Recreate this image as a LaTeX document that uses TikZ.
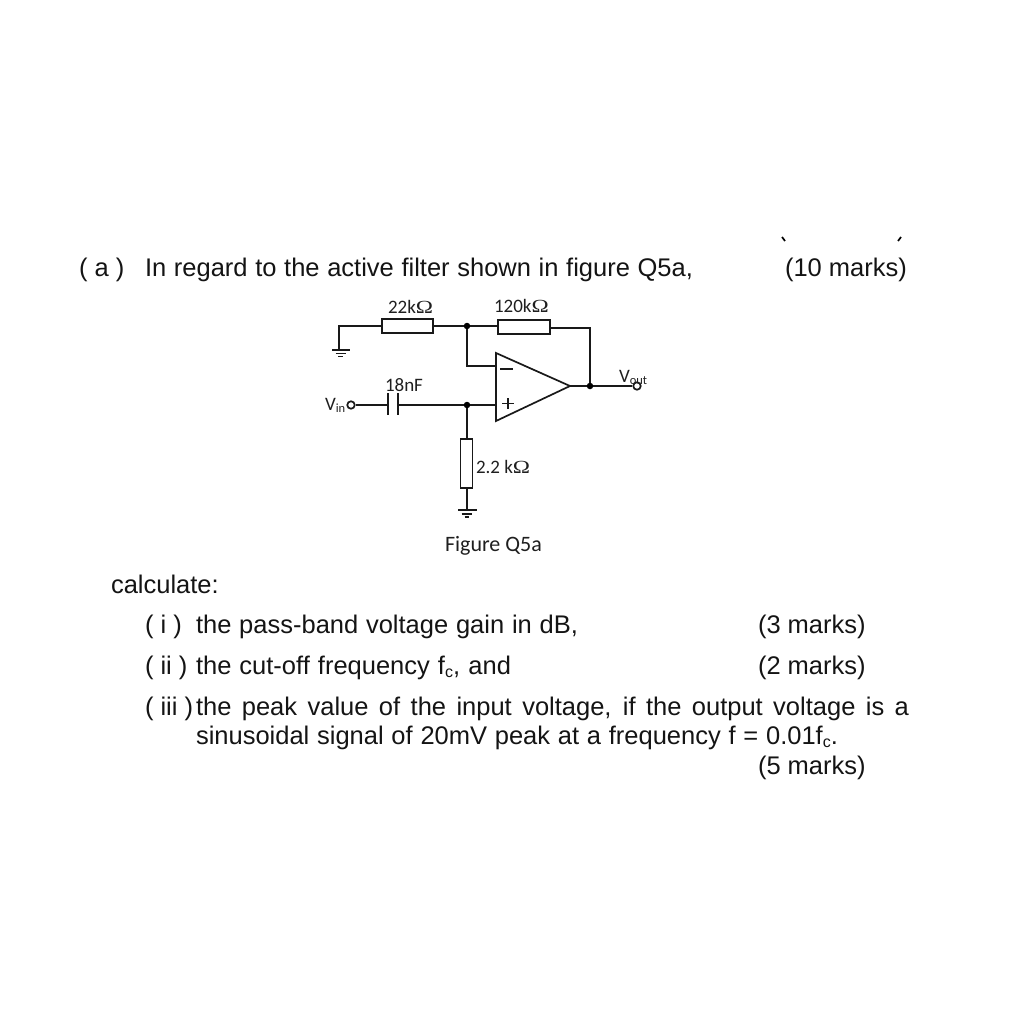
\documentclass[tikz,border=0pt]{standalone}
\usepackage{fontspec}
\setmainfont{Liberation Sans}
\newfontfamily\figfont{Carlito}
\newfontfamily\omegafont[FakeStretch=1.25]{Liberation Serif}
\newcommand{\Om}{{\omegafont\fontsize{18.5}{22}\selectfont\char"03A9}}
\newcommand{\lowsub}[1]{\raisebox{-3pt}{\fontsize{16}{16}\selectfont #1}}
\tikzset{
  x=1pt,y=-1pt,
  txt/.style={anchor=base west,inner sep=0pt,outer sep=0pt,font=\fontsize{25.5}{30}\selectfont,text=black!92},
  lbl/.style={anchor=base west,inner sep=0pt,outer sep=0pt,font=\figfont\fontsize{19}{22}\selectfont,text=black!88},
  wire/.style={draw=black!90,line width=1.7pt},
  res/.style={draw=black!90,line width=1.7pt,fill=white,rectangle,inner sep=0pt,outer sep=0pt},
  dot/.style={circle,fill=black,inner sep=0pt,minimum size=6.5pt},
  term/.style={circle,draw=black!90,line width=1.7pt,fill=white,inner sep=0pt,minimum size=7.5pt},
  gndbar/.style={draw=black!90,line width=1.4pt}
}
\begin{document}
\begin{tikzpicture}
\useasboundingbox (0,0) rectangle (1033,1033);
% texts
\node[txt] (ta) at (79,276) {( a )};
\node[txt] (tb) at (145,276) {\hbox to 548pt{In regard to the active filter shown in figure Q5a,}};
\node[txt] (tc) at (785,276) {(10 marks)};
\node[txt] (td) at (111,593) {calculate:};
\node[txt] (te) at (145,633) {( i )};
\node[txt] (tf) at (196,633) {\hbox to 382pt{the pass-band voltage gain in dB,}};
\node[txt] (tg) at (758,633) {(3 marks)};
\node[txt] (th) at (145,674) {( ii )};
\node[txt] (ti) at (196,674) {\hbox to 315pt{the cut-off frequency f\lowsub{c}, and}};
\node[txt] (tj) at (758,674) {(2 marks)};
\node[txt] (tk) at (145,715) {( iii )};
\node[txt] (tl) at (196,715) {\hbox to 713pt{the peak value of the input voltage, if the output voltage is a}};
\node[txt] (tm) at (196,744) {\hbox to 642pt{sinusoidal signal of 20mV peak at a frequency f = 0.01f\lowsub{c}.}};
\node[txt] (tn) at (758,774) {(5 marks)};
% stray marks
\coordinate (m1a) at (782,237); \coordinate (m1b) at (785,241);
\coordinate (m2a) at (901,237); \coordinate (m2b) at (898,241);
\draw[line width=1.7pt] (m1a) -- (m1b);
\draw[line width=1.7pt] (m2a) -- (m2b);
% circuit points
\node[res,minimum width=51pt,minimum height=14pt] (r1) at (407.5,326) {};
\node[res,minimum width=52pt,minimum height=14pt] (r2) at (524,327) {};
\node[res,minimum width=12pt,minimum height=49pt] (r3) at (466.5,463.5) {};
\node[dot] (j1) at (467,326) {};
\node[dot] (j2) at (467,405) {};
\node[dot] (j3) at (590,386) {};
\node[term] (vin) at (351,405) {};
\node[term] (vout) at (637,386) {};
\coordinate (g1) at (339,350);
\coordinate (g2) at (467,510);
\coordinate (c1) at (388,405);
\coordinate (c2) at (398,405);
\coordinate (a) at (496,353);
\coordinate (b) at (496,421);
\coordinate (o) at (570,386);
\coordinate (inm) at (496,366);
\coordinate (inp) at (496,405);
% wires
\draw[wire] (r1.west) -- (339,326) -- (g1);
\draw[wire] (r1.east) -- (j1);
\draw[wire] (j1) -- (r2.west |- j1);
\draw[wire] (r2.east |- 0,328) -- (590,328) -- (j3);
\draw[wire] (j1) -- (467,366) -- (inm);
\draw[wire] (vin) -- (c1);
\draw[wire] (c2) -- (j2);
\draw[wire] (j2) -- (inp);
\draw[wire] (j2) -- (r3.north -| j2);
\draw[wire] (r3.south -| g2) -- (g2);
\draw[wire] (o) -- (j3);
\draw[wire] (j3) -- (vout);
\draw[wire,line join=miter] (a) -- (o) -- (b) -- cycle;
\draw[wire] (388,393) -- (c1) -- (388,415);
\draw[wire] (398,393) -- (c2) -- (398,415);
% op-amp signs
\draw[wire] (500,369) -- (513,369);
\draw[wire] (502,403.5) -- (514,403.5);
\draw[wire] (508,398) -- (508,409);
% grounds
\draw[gndbar] (332,350) -- (350,350);
\draw[gndbar] (335.5,353.5) -- (346,353.5);
\draw[gndbar] (338,356.5) -- (343,356.5);
\draw[gndbar] (458,510) -- (477,510);
\draw[gndbar] (461.5,514) -- (472,514);
\draw[gndbar] (464.5,517) -- (469,517);
% labels
\node[lbl] (l1) at (388,313) {22k\Om};
\node[lbl] (l2) at (494,312) {120k\Om};
\node[lbl] (l3) at (385,391) {18nF};
\node[lbl] (l4) at (325,410) {V\raisebox{-2pt}{\fontsize{12.5}{14}\selectfont in}};
\node[lbl] (l5) at (619,382) {V\raisebox{-2pt}{\fontsize{12.5}{14}\selectfont out}};
\node[lbl] (l6) at (476,473) {2.2 k\Om};
\node[lbl,font=\figfont\fontsize{22}{24}\selectfont] (l7) at (445,551) {Figure Q5a};
\end{tikzpicture}
\end{document}
